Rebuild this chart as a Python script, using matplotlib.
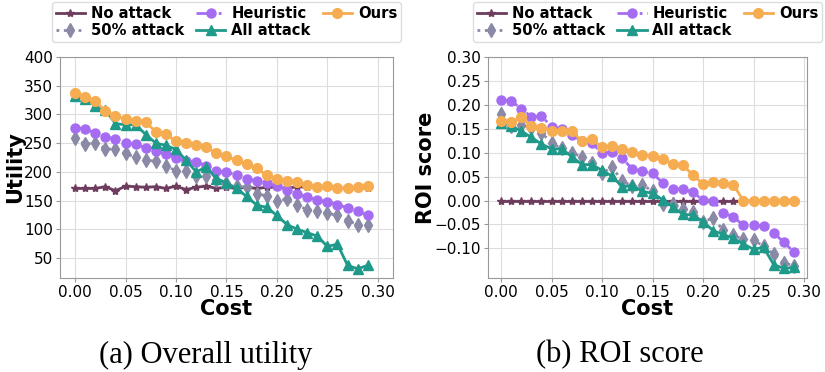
import numpy as np
import matplotlib
matplotlib.use("Agg")
import matplotlib.pyplot as plt

cost = np.round(np.arange(30) * 0.01, 2)

# overall utility
util_no = [171, 171, 171, 174, 167, 175, 174, 173, 174, 171, 175, 169, 173, 175, 171,
           173, 171, 173, 171, 173, 173, 171, 174, 173, 175, 173, 171, 172, 172, 172]
util_half = [259, 248, 251, 240, 239, 232, 225, 221, 218, 210, 202, 201, 192, 192, 186,
             180, 175, 173, 162, 158, 150, 152, 142, 134, 132, 128, 124, 115, 108, 107]
util_heur = [277, 275, 267, 261, 257, 250, 248, 242, 236, 231, 224, 219, 217, 211, 202,
             199, 195, 188, 184, 181, 176, 169, 162, 156, 151, 148, 143, 137, 131, 124]
util_all = [332, 327, 315, 308, 284, 282, 282, 265, 250, 246, 239, 220, 200, 208, 188,
            181, 171, 157, 142, 138, 124, 108, 100, 94, 88, 70, 74, 37, 31, 37]
util_ours = [338, 331, 323, 306, 297, 292, 288, 286, 270, 266, 253, 251, 247, 243, 232,
             227, 220, 213, 206, 194, 188, 184, 182, 177, 173, 176, 171, 171, 174, 176]

# ROI score
roi_no = [0.0] * 30
roi_half = [0.180, 0.156, 0.158, 0.152, 0.142, 0.120, 0.109, 0.099, 0.092, 0.078,
            0.057, 0.070, 0.040, 0.031, 0.033, 0.019, -0.007, -0.008, -0.017, -0.024,
            -0.044, -0.037, -0.062, -0.073, -0.081, -0.083, -0.095, -0.112, -0.131, -0.136]
roi_heur = [0.211, 0.208, 0.192, 0.175, 0.177, 0.154, 0.150, 0.138, 0.124, 0.120,
            0.099, 0.101, 0.088, 0.066, 0.061, 0.057, 0.037, 0.024, 0.024, 0.017,
            0.001, 0.0, -0.026, -0.034, -0.052, -0.051, -0.054, -0.068, -0.087, -0.108]
roi_all = [0.163, 0.156, 0.145, 0.132, 0.118, 0.108, 0.108, 0.092, 0.075, 0.075,
           0.063, 0.051, 0.028, 0.032, 0.019, 0.015, 0.002, -0.013, -0.029, -0.030,
           -0.044, -0.063, -0.071, -0.079, -0.091, -0.102, -0.098, -0.134, -0.142, -0.140]
roi_ours = [0.167, 0.165, 0.174, 0.155, 0.152, 0.146, 0.145, 0.145, 0.124, 0.128,
            0.111, 0.114, 0.107, 0.101, 0.095, 0.093, 0.086, 0.076, 0.074, 0.053,
            0.035, 0.039, 0.036, 0.033, 0.0, 0.0, 0.0, 0.0, 0.0, 0.0]

labels = ["No attack", "50% attack", "Heuristic", "All attack", "Ours"]
colors = ["#6e3d5e", "#8a8aa6", "#a56cf2", "#1f998a", "#f6ad52"]
styles = [dict(ls="-", marker="*", ms=6),
          dict(ls=":", marker="d", ms=7),
          dict(ls="-.", marker="o", ms=6.5),
          dict(ls="-", marker="^", ms=6.5),
          dict(ls="-", marker="o", ms=7)]

fig = plt.figure(figsize=(8.25, 3.72), dpi=100)
ax1 = fig.add_axes([0.0727, 0.2527, 0.4036, 0.594])
ax2 = fig.add_axes([0.5915, 0.2527, 0.3867, 0.594])


def draw(ax, series, ylabel):
    for y, lab, c, st in zip(series, labels, colors, styles):
        ax.plot(cost, y, color=c, lw=2, label=lab, **st)
    ax.grid(True, color="#dddddd", lw=0.8)
    ax.set_axisbelow(True)
    for sp in ax.spines.values():
        sp.set_color("#999999")
    ax.tick_params(labelsize=11, length=3, color="#999999", pad=2)
    ax.set_xticks([0.0, 0.05, 0.10, 0.15, 0.20, 0.25, 0.30])
    ax.set_xticklabels(["0.00", "0.05", "0.10", "0.15", "0.20", "0.25", "0.30"])
    ax.set_xlabel("Cost", fontsize=15, fontweight="bold", labelpad=-1)
    ax.set_ylabel(ylabel, fontsize=15, fontweight="bold", labelpad=-1)
    ax.legend(loc="lower center", bbox_to_anchor=(0.5, 1.035), ncol=3,
              prop=dict(size=10.6, weight="bold"), handlelength=2.0,
              columnspacing=0.8, handletextpad=0.4, borderpad=0.25,
              labelspacing=0.15, framealpha=1, edgecolor="#dddddd")


draw(ax1, [util_no, util_half, util_heur, util_all, util_ours], "Utility")
ax1.set_xlim(-0.015, 0.315)
ax1.set_ylim(15, 400)
ax1.set_yticks(np.arange(50, 401, 50))

draw(ax2, [roi_no, roi_half, roi_heur, roi_all, roi_ours], "ROI score")
ax2.set_xlim(-0.013, 0.303)
ax2.set_ylim(-0.162, 0.30)
ax2.set_yticks(np.round(np.arange(-0.10, 0.301, 0.05), 2))
ax2.set_yticklabels(["\u22120.10", "\u22120.05", "0.00", "0.05", "0.10", "0.15",
                     "0.20", "0.25", "0.30"])

fig.text(206 / 825, 1 - 355 / 372, "(a) Overall utility", ha="center", va="center",
         fontsize=22, family="Liberation Serif")
fig.text(620 / 825, 1 - 355 / 372, "(b) ROI score", ha="center", va="center",
         fontsize=22, family="Liberation Serif")

fig.savefig("out.png", dpi=100)
